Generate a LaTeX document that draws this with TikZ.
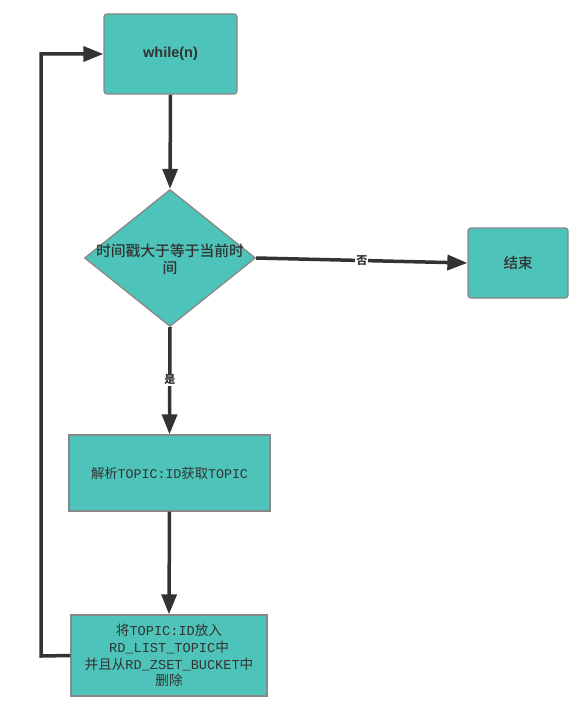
\documentclass[tikz,border=0pt]{standalone}
\usepackage{fontspec}
\setmainfont{Liberation Sans}
\newfontfamily\cjk{Noto Sans CJK SC}
\newfontfamily\cjkmed{Noto Sans CJK SC Medium}
\newfontfamily\monocjk{Liberation Mono}
\usetikzlibrary{shapes.geometric,arrows.meta}
\definecolor{boxfill}{HTML}{4EC3B9}
\definecolor{boxline}{HTML}{888888}
\definecolor{arrowc}{HTML}{333333}
\newcommand{\mz}[1]{{\monocjk #1}}
\begin{document}
\begin{tikzpicture}[x=1pt,y=-1pt,
  boxbase/.style={draw=boxline,fill=boxfill,line width=1.3pt,inner sep=0pt,text=arrowc},
  roundbox/.style={boxbase,rectangle,rounded corners=3pt},
  squarebox/.style={boxbase,rectangle},
  decision/.style={boxbase,diamond,aspect=1.25},
  flow/.style={draw=arrowc,line width=3.5pt,-{Triangle[length=20pt,width=15pt]}},
  lbl/.style={fill=white,inner sep=1pt,text=arrowc,font=\cjk\fontsize{11}{12}\selectfont\bfseries}
]
\useasboundingbox (0,0) rectangle (582,719);
\node[roundbox,minimum width=133pt,minimum height=80pt,font=\fontsize{14.5}{16}\selectfont\bfseries] (w) at (170.5,54) {while(n)};
\node[decision,minimum width=171pt,minimum height=137pt] (d) at (170,258) {};
\node[text=arrowc,align=center,font=\cjkmed\fontsize{14.8}{17}\selectfont] (dt) at (170,259) {时间戳大于等于当前时\\间};
\node[roundbox,minimum width=100pt,minimum height=70pt,font=\cjkmed\fontsize{14.5}{16}\selectfont] (e) at (518,263) {结束};
\node[squarebox,minimum width=201pt,minimum height=76pt,font=\cjk\fontsize{13.3}{15}\selectfont] (p) at (169.5,473) {解析\mz{TOPIC:ID}获取\mz{TOPIC}};
\node[squarebox,minimum width=196pt,minimum height=81pt,align=center,font=\cjk\fontsize{13.6}{16.8}\selectfont] (r) at (169,655.5) {将\mz{TOPIC:ID}放入\\\mz{RD\_LIST\_TOPIC}中\\并且从\mz{RD\_ZSET\_BUCKET}中\\删除};
\coordinate (c1) at (41,656);
\coordinate (c2) at (41,54);
\draw[flow] (w.south) -- (d.north);
\draw[flow] (d.east) -- node[lbl,pos=0.5] {否} (e.west);
\draw[flow] (d.south) -- node[lbl,pos=0.49] {是} (p.north);
\draw[flow] (p.south) -- (r.north);
\draw[flow] (r.west) -- (c1) -- (c2) -- (w.west);
\end{tikzpicture}
\end{document}
